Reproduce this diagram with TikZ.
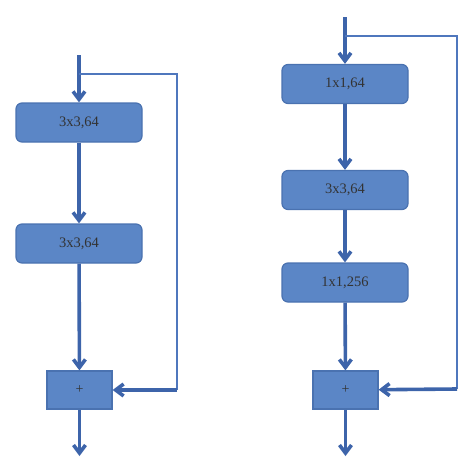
\documentclass[tikz,border=0pt]{standalone}
\usepackage{fontspec}
\setmainfont{Liberation Serif}
\usepackage{tikz}
\usetikzlibrary{arrows.meta, positioning}

\definecolor{boxblue}{HTML}{5B86C6}
\definecolor{boxedge}{HTML}{4A72B0}
\definecolor{lineblue}{HTML}{3D64AA}
\definecolor{skipblue}{HTML}{4F77BD}

\begin{document}
\begin{tikzpicture}[x=1pt, y=-1pt,
        layer/.style={draw=boxedge, fill=boxblue, rounded corners=6pt, line width=1.2pt,
            minimum width=126pt, minimum height=39pt, text=black!80,
            font=\fontsize{14.5}{16}\selectfont},
        sumbox/.style={draw=boxedge, fill=boxblue, line width=1.2pt,
            minimum width=65pt, minimum height=38pt, text=black!80,
            font=\fontsize{14}{16}\selectfont},
        flow/.style={draw=lineblue, line width=3.6pt,
            -{Straight Barb[length=8pt, width=12pt]}},
        skip/.style={draw=skipblue, line width=1.4pt}]
        \useasboundingbox (0,0) rectangle (474,474);

        % Basic block (two 3x3 layers)
        \node[layer] (l1) at (79,122.5) {3x3,64};
        \node[layer] (l2) at (79,243.5) {3x3,64};
        \node[sumbox] (lsum) at (79.5,390) {+};
        \coordinate (lin) at (79,55);
        \coordinate (lfork) at (79,74);
        \coordinate (lturn) at (177,390);
        \coordinate (lout) at (79.5,456);

        \draw[flow] (lin) -- (l1);
        \draw[flow] (l1) -- (l2);
        \draw[flow] (l2) -- (lsum);
        \draw[flow] (lsum) -- (lout);

        % shortcut
        \draw[skip] (lfork) -| (lturn);
        \draw[flow] (lturn) -- (lsum);

        % Bottleneck block (1x1, 3x3, 1x1)
        \node[layer] (r1) at (345,84) {1x1,64};
        \node[layer] (r2) at (345,190) {3x3,64};
        \node[layer] (r3) at (345,282.5) {1x1,256};
        \node[sumbox] (rsum) at (345.5,390) {+};
        \coordinate (rin) at (345,17);
        \coordinate (rfork) at (345,36);
        \coordinate (rturn) at (457,389);
        \coordinate (rout) at (345.5,456);

        \draw[flow] (rin) -- (r1);
        \draw[flow] (r1) -- (r2);
        \draw[flow] (r2) -- (r3);
        \draw[flow] (r3) -- (rsum);
        \draw[flow] (rsum) -- (rout);

        % shortcut
        \draw[skip] (rfork) -| (rturn);
        \draw[flow] (rturn) -- (rsum);
    \end{tikzpicture}
\end{document}
